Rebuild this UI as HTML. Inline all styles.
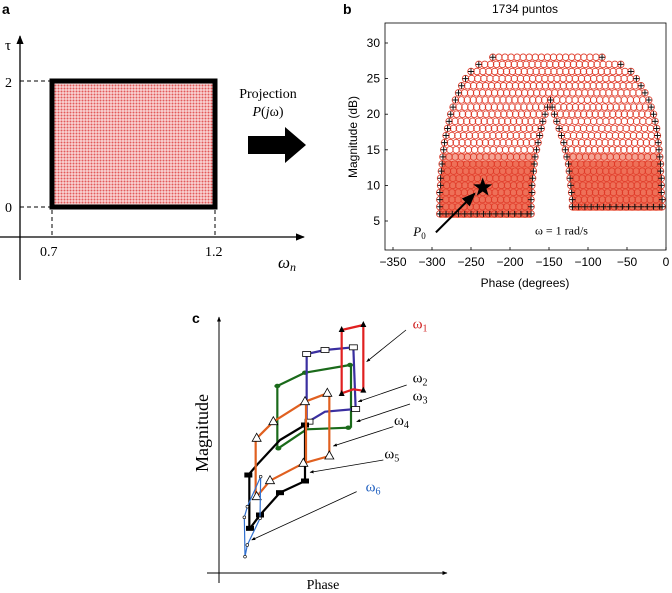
<!DOCTYPE html>
<html><head><meta charset="utf-8"><style>
html,body{margin:0;padding:0;background:#fff}
svg{display:block}
text{font-family:"Liberation Sans",sans-serif}
.serif{font-family:"Liberation Serif",serif}
</style></head><body>
<svg id="fig" width="672" height="593" viewBox="0 0 672 593" xmlns="http://www.w3.org/2000/svg">
<defs>
<pattern id="dots" width="3" height="3" patternUnits="userSpaceOnUse">
<rect width="3" height="3" fill="#f9d4d4"/><circle cx="1.5" cy="1.5" r="1.0" fill="#e25a5a"/>
</pattern>
<marker id="ah" viewBox="0 0 10 10" refX="9" refY="5" markerWidth="7" markerHeight="7" orient="auto-start-reverse"><path d="M0,1 L10,5 L0,9 z" fill="#000"/></marker>
<marker id="ahs" viewBox="0 0 10 10" refX="9" refY="5" markerWidth="5" markerHeight="5" orient="auto"><path d="M0,1 L10,5 L0,9 z" fill="#000"/></marker>
</defs>

<!-- Panel a -->
<g>
<text x="2" y="14" font-weight="bold" font-size="14">a</text>
<line x1="20" y1="280" x2="20" y2="36" stroke="#000" stroke-width="1.3" marker-end="url(#ah)"/>
<line x1="0" y1="237" x2="304" y2="237" stroke="#000" stroke-width="1.3" marker-end="url(#ah)"/>
<rect x="52" y="81" width="163" height="126" fill="url(#dots)" stroke="#000" stroke-width="5"/>
<g stroke="#000" stroke-dasharray="4,3" stroke-width="1">
<line x1="20" y1="81" x2="50" y2="81"/><line x1="20" y1="207" x2="50" y2="207"/>
<line x1="52" y1="210" x2="52" y2="237"/><line x1="215" y1="210" x2="215" y2="237"/>
</g>
<text x="5" y="50" class="serif" font-size="15">τ</text>
<text x="5" y="87" class="serif" font-size="14">2</text>
<text x="5" y="212" class="serif" font-size="14">0</text>
<text x="40" y="256" class="serif" font-size="14">0.7</text>
<text x="205" y="256" class="serif" font-size="14">1.2</text>
<text x="278" y="268" class="serif" font-size="17" font-style="italic">ω<tspan font-size="12" dy="3">n</tspan></text>
<text x="268" y="98" class="serif" font-size="14" text-anchor="middle">Projection</text>
<text x="268" y="116" class="serif" font-size="14" text-anchor="middle"><tspan font-style="italic">P</tspan>(<tspan font-style="italic">j</tspan>ω)</text>
<path d="M248,136 L285,136 L285,127 L306,145 L285,163 L285,154 L248,154 z" fill="#000"/>
</g>

<!-- Panel b -->
<g id="pb">
<text x="343" y="14" font-weight="bold" font-size="14">b</text>
<text x="525" y="13" font-size="12" text-anchor="middle">1734 puntos</text>
<text transform="translate(357,137) rotate(-90)" font-size="12" text-anchor="middle">Magnitude (dB)</text>
<text x="525" y="287" font-size="12" text-anchor="middle">Phase (degrees)</text>
<g id="bmarks"></g>
<rect x="385" y="23" width="281" height="227" fill="none" stroke="#000" stroke-width="0.8"/>
<g id="bticks"></g>
</g>

<!-- Panel c -->
<g id="pc">
<text x="192" y="323" font-weight="bold" font-size="14">c</text>
<line x1="219" y1="583" x2="219" y2="317" stroke="#000" stroke-width="1" marker-end="url(#ahs)"/>
<line x1="207" y1="573" x2="447" y2="573" stroke="#000" stroke-width="1" marker-end="url(#ahs)"/>
<text transform="translate(208,433) rotate(-90)" class="serif" font-size="18" text-anchor="middle">Magnitude</text>
<text x="323" y="589" class="serif" font-size="14" text-anchor="middle">Phase</text>
<g id="cmarks"></g>
</g>
</svg>
<script>
// ---- Panel b data ----
const mags   = [6,7,8,9,10,11,12,13,14,15,16,17,18,19,20,21,22,23,24,25,26,27,28];
const outerL = [-290,-290,-290,-290,-289,-289,-288,-287,-286,-285,-284,-282,-280,-278,-276,-273,-270,-266,-262,-257,-250,-240,-222];
const innerL = [-173,-173,-173,-172,-172,-171,-170,-169,-168,-166,-164,-162,-160,-158,-155,-152,-148,null,null,null,null,null,null];
const innerR = [null,-120,-120,-121,-122,-123,-124,-125,-127,-129,-131,-134,-137,-140,-143,-146,-148,null,null,null,null,null,null];
const outerR = [null,-5,-5,-6,-6,-6,-7,-7,-8,-9,-10,-11,-12,-14,-16,-19,-22,-27,-32,-38,-45,-58,-82];
const xTicks = [-350,-300,-250,-200,-150,-100,-50,0];
const yTicks = [5,10,15,20,25,30];
const nominal = {phase:-235, mag:9.7};
const NS='http://www.w3.org/2000/svg';
const bx = v => 666 + v*(273/350);
const by = v => 221 - (v-5)*7.12;
function mk(tag, attrs, parent){const e=document.createElementNS(NS,tag);for(const k in attrs)e.setAttribute(k,attrs[k]);parent.appendChild(e);return e;}
const bm=document.getElementById('bmarks');
function span(a,b,m,i){
  const x0=bx(a),x1=bx(b),y=by(m);
  if(m<15){const r=mk('rect',{x:x0,y:y-4,width:x1-x0,height:8,fill:m<14?'#ee7058':'#f4a494'},bm);
    
    }
  const n=Math.max(1,Math.round((x1-x0)/6));
  for(let k=0;k<=n;k++){
    const c=mk('circle',{cx:x0+(x1-x0)*k/n,cy:y,r:3.3,fill:'none',stroke:'#e03a28','stroke-width':0.8},bm);
    
    
  }
  [x0,x1].forEach(x=>{const p=mk('path',{d:`M${x-3},${y}h6M${x},${y-3}v6`,stroke:'#111','stroke-width':1},bm);
    
    });
}
mags.forEach((m,i)=>{
  if(innerL[i]===null){span(outerL[i],outerR[i],m,i);}
  else{span(outerL[i],innerL[i],m,i); if(innerR[i]!==null&&outerR[i]!==null) span(innerR[i],outerR[i],m,i);}
});
[[outerL[0],innerL[0],mags[0]],[innerR[1],outerR[1],mags[1]]].forEach(([a,b,m])=>{
  for(let v=a;v<=b;v+=8){const p=mk('path',{d:`M${bx(v)-3},${by(m)}h6M${bx(v)},${by(m)-3}v6`,stroke:'#111','stroke-width':1},bm);
  
  }
});
const sx=bx(nominal.phase), sy=by(nominal.mag);
let pts=[];for(let k=0;k<10;k++){const r=k%2?4:10,a=-Math.PI/2+k*Math.PI/5;pts.push((sx+r*Math.cos(a)).toFixed(1)+','+(sy+r*Math.sin(a)).toFixed(1));}
const star=mk('polygon',{points:pts.join(' '),fill:'#000'},bm);


const arr=mk('line',{x1:bx(-295),y1:by(3.4),x2:sx-8,y2:sy+6,stroke:'#000','stroke-width':2,'marker-end':'url(#ah)'},bm);


const p0=mk('text',{x:bx(-324),y:by(2.9),'font-size':13,'font-style':'italic',class:'serif'},bm);
p0.innerHTML='P<tspan font-size="9" dy="3" font-style="normal">0</tspan>';


const om=mk('text',{x:bx(-168),y:by(3.1),'font-size':12,class:'serif'},bm);
om.textContent='ω = 1 rad/s';


const bt=document.getElementById('bticks');
xTicks.forEach(v=>{mk('line',{x1:bx(v),y1:250,x2:bx(v),y2:247,stroke:'#000','stroke-width':0.8},bt);
  const t=mk('text',{x:bx(v),y:266,'font-size':12,'text-anchor':'middle'},bt);t.textContent=(v<0?'\u2212'+(-v):v);
  
  });
yTicks.forEach(v=>{mk('line',{x1:385,y1:by(v),x2:388,y2:by(v),stroke:'#000','stroke-width':0.8},bt);
  const t=mk('text',{x:380,y:by(v)+4,'font-size':12,'text-anchor':'end'},bt);t.textContent=v;
  
  });

// ---- Panel c data (coordinates in a 3x local sketch grid) ----
const w1Lines=[[[455,60],[520,45]],[[455,60],[455,255]],[[520,45],[520,245]],[[455,250],[490,238],[520,242]]];
const w2Lines=[[[350,132],[405,120],[490,112]],[[355,335],[405,305],[497,297]],[[350,132],[350,335]],[[490,112],[497,297]]];
const w3Lines=[[[262,228],[345,188],[480,165]],[[265,415],[350,358],[475,353]],[[262,228],[262,415]],[[483,165],[483,353]]];
const w4Lines=[[[200,385],[250,335],[345,275],[412,250]],[[200,560],[240,512],[340,460],[418,438]],[[197,385],[197,560]],[[348,275],[348,460]],[[418,250],[418,438]]];
const w5Lines=[[[175,495],[205,460],[270,390],[345,345]],[[180,655],[210,615],[270,548],[345,513]],[[178,495],[178,655]],[[345,345],[345,513]]];
const w6Lines=[[[165,740],[163,622],[172,590],[212,500],[210,625],[172,705],[165,740]]];
const w1Pts=[[455,60],[520,45],[455,252],[520,242]];
const w2Pts=[[350,132],[405,120],[490,112],[357,335],[497,297]];
const w3Pts=[[262,228],[345,188],[480,165],[265,415],[475,353]];
const w4Pts=[[200,385],[250,335],[345,275],[412,250],[200,560],[240,512],[340,460],[418,438]];
const w5Pts=[[175,495],[270,548],[345,345],[180,655],[210,615],[345,513]];
const w6Pts=[[165,740],[163,622],[172,590],[212,500],[210,625],[172,705]];
const labels=[['ω','1',668,55,'#d02020'],['ω','2',668,218,'#000'],['ω','3',668,272,'#000'],['ω','4',612,345,'#000'],['ω','5',583,446,'#000'],['ω','6',527,545,'#2060c0']];
const arrows=[[648,60,530,155],[650,225,505,275],[660,282,500,335],[610,350,430,408],[580,450,360,487],[500,545,185,690]];
const cX=v=>190+v/3, cY=v=>310+v/3;
const cm=document.getElementById('cmarks');
function drawSeries(lines,pts,color,shape,name){
  const g=mk('g',{},cm);
  
  
  lines.forEach(l=>{const p=mk('polyline',{points:l.map(q=>cX(q[0])+','+cY(q[1])).join(' '),fill:'none',stroke:color,'stroke-width':shape==='circle'?1.2:2.2,'stroke-linejoin':'round'},g);
    
    });
  pts.forEach(q=>{const x=cX(q[0]),y=cY(q[1]);let e;
    if(shape==='tri-f')e=mk('polygon',{points:`${x},${y-4} ${x-3},${y+2} ${x+3},${y+2}`,fill:'#000'},g);
    else if(shape==='sq-w')e=mk('rect',{x:x-4,y:y-2.5,width:8,height:5,fill:'#fff',stroke:'#000','stroke-width':0.8},g);
    else if(shape==='dot')e=mk('ellipse',{cx:x,cy:y,rx:3,ry:2.2,fill:'#1a6a1a'},g);
    else if(shape==='tri-w')e=mk('polygon',{points:`${x},${y-5} ${x-4.5},${y+3} ${x+4.5},${y+3}`,fill:'#fff',stroke:'#000','stroke-width':0.8},g);
    else if(shape==='sq-b')e=mk('rect',{x:x-4,y:y-2.5,width:8,height:5,fill:'#000'},g);
    else e=mk('circle',{cx:x,cy:y,r:1.4,fill:'#fff',stroke:'#000','stroke-width':0.6},g);
    
    });
}
drawSeries(w3Lines,w3Pts,'#1a6a1a','dot','omega3-template');
drawSeries(w2Lines,w2Pts,'#3a2fa0','sq-w','omega2-template');
drawSeries(w1Lines,w1Pts,'#e02020','tri-f','omega1-template');
drawSeries(w5Lines,w5Pts,'#000','sq-b','omega5-template');
drawSeries(w4Lines,w4Pts,'#e06020','tri-w','omega4-template');
drawSeries(w6Lines,w6Pts,'#3070d0','circle','omega6-template');
arrows.forEach(a=>{const l=mk('line',{x1:cX(a[0]),y1:cY(a[1]),x2:cX(a[2]),y2:cY(a[3]),stroke:'#000','stroke-width':0.8,'marker-end':'url(#ahs)'},cm);
  
  });
labels.forEach(L=>{const t=mk('text',{x:cX(L[2]),y:cY(L[3]),'font-size':15,fill:L[4],class:'serif'},cm);
  t.innerHTML=L[0]+'<tspan font-size="10" dy="3">'+L[1]+'</tspan>';
  
  });
</script>
</body></html>
